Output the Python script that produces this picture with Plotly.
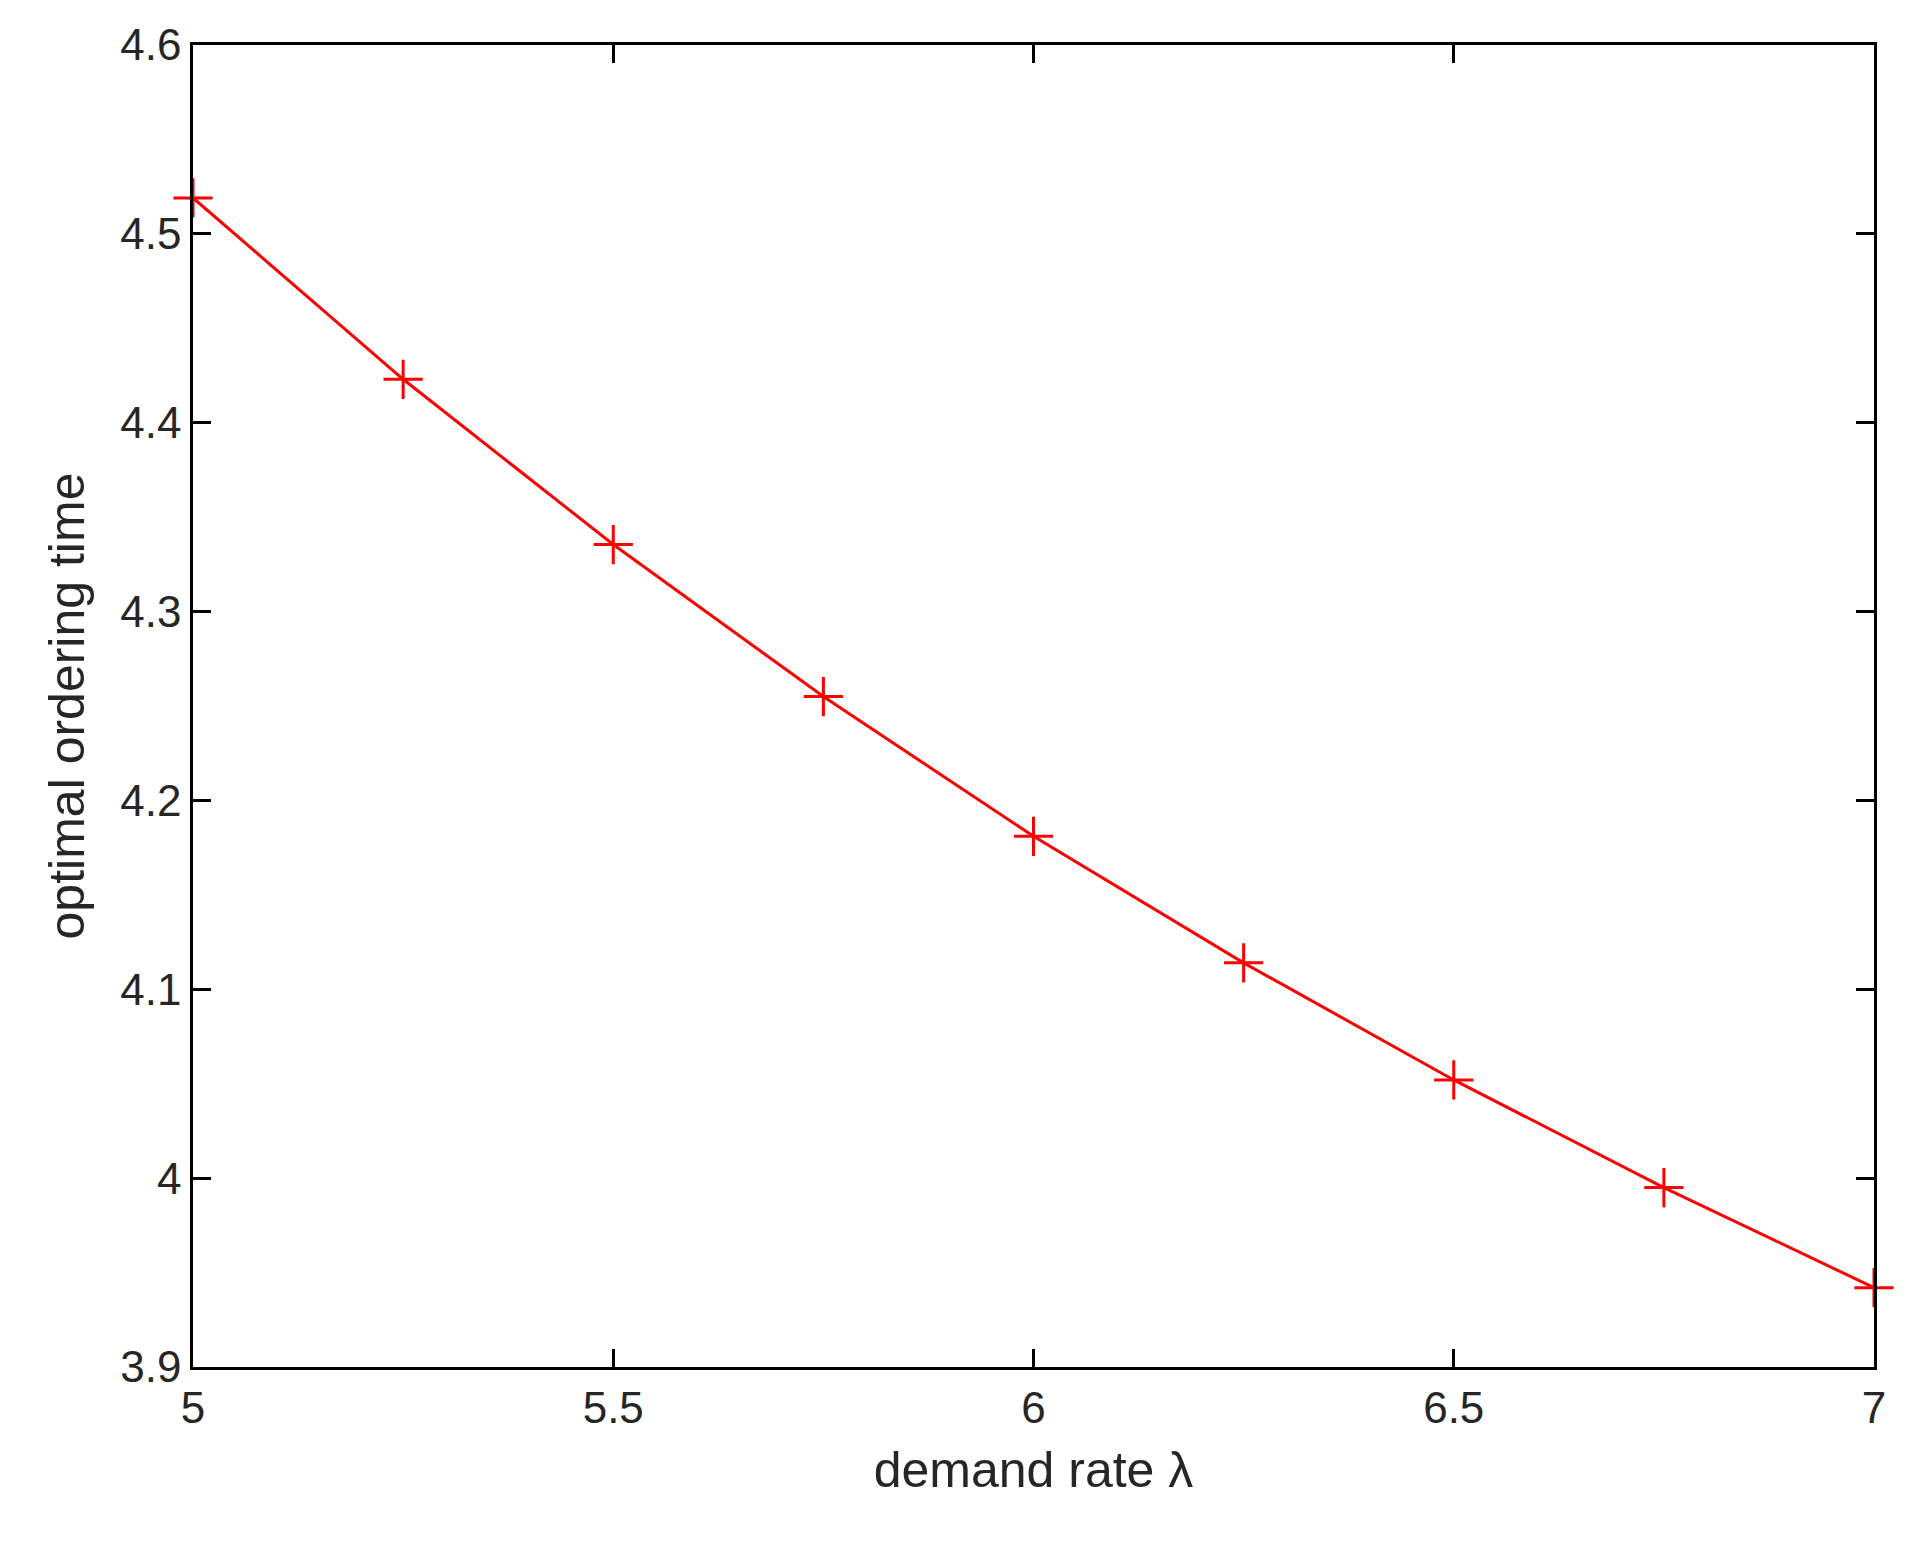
import plotly.graph_objects as go

demand_rate = [5.0, 5.25, 5.5, 5.75, 6.0, 6.25, 6.5, 6.75, 7.0]
ordering_time = [4.519, 4.423, 4.3355, 4.255, 4.181, 4.114, 4.052, 3.995, 3.942]

x_ticks = [5, 5.5, 6, 6.5, 7]
x_labels = ["5", "5.5", "6", "6.5", "7"]
y_ticks = [3.9, 4.0, 4.1, 4.2, 4.3, 4.4, 4.5, 4.6]
y_labels = ["3.9", "4", "4.1", "4.2", "4.3", "4.4", "4.5", "4.6"]

fig = go.Figure(go.Scatter(
    x=demand_rate, y=ordering_time, mode="lines+markers",
    line=dict(color="red", width=3),
    marker=dict(symbol="cross-thin", size=28, line=dict(color="red", width=3)),
    cliponaxis=False,
))

axis_common = dict(showgrid=False, zeroline=False, showline=True, linecolor="black",
                   linewidth=2.5, mirror="ticks", ticks="inside", ticklen=18,
                   tickwidth=2.5, tickcolor="black",
                   tickfont=dict(family="Liberation Sans, Arial", size=44, color="#262626"))

fig.update_xaxes(range=[5, 7], tickvals=x_ticks, ticktext=x_labels,
                 title=dict(text="demand rate λ", font=dict(family="Liberation Sans, Arial", size=50, color="#262626"), standoff=22),
                 **axis_common)
fig.update_yaxes(range=[3.9, 4.6], tickvals=y_ticks, ticktext=y_labels,
                 title=dict(text="optimal ordering time", font=dict(family="Liberation Sans, Arial", size=50, color="#262626"), standoff=20),
                 **axis_common)

fig.update_layout(width=1918, height=1545, paper_bgcolor="white", plot_bgcolor="white",
                  showlegend=False,
                  margin=dict(l=185, r=52, t=32, b=186))

fig.write_html("out.html")
